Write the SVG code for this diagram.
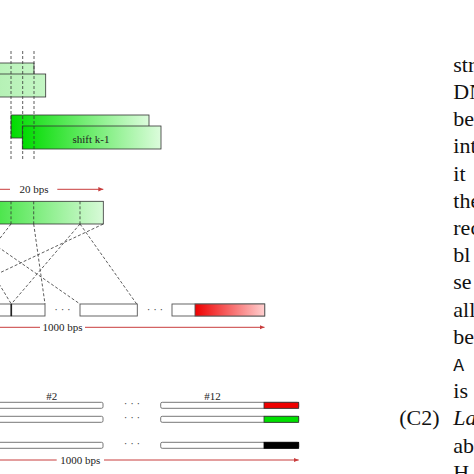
<svg xmlns="http://www.w3.org/2000/svg" width="474" height="474" viewBox="0 0 474 474">
<defs>
<linearGradient id="pale" x1="0" y1="0" x2="1" y2="0"><stop offset="0" stop-color="#a6eca6"/><stop offset="1" stop-color="#c4f6c4"/></linearGradient>
<linearGradient id="green" x1="0" y1="0" x2="1" y2="0"><stop offset="0" stop-color="#00dc00"/><stop offset="1" stop-color="#dcfcdc"/></linearGradient>
<linearGradient id="green2" x1="0" y1="0" x2="1" y2="0"><stop offset="0" stop-color="#18de18"/><stop offset="1" stop-color="#d8fad8"/></linearGradient>
<linearGradient id="red" x1="0" y1="0" x2="1" y2="0"><stop offset="0" stop-color="#ee0000"/><stop offset="1" stop-color="#ffd0d0"/></linearGradient>
<marker id="ah" markerWidth="6" markerHeight="6" refX="5" refY="3" orient="auto" markerUnits="userSpaceOnUse"><path d="M0,0.8 L5,3 L0,5.2 Z" fill="#c83c3c"/></marker>
</defs>
<style>
.box{stroke:#333;stroke-width:0.8}
.blk{fill:#fff;stroke:#555;stroke-width:0.9}
.bar{fill:#fff;stroke:#777;stroke-width:1}
.dash{stroke:#333;stroke-width:0.8;stroke-dasharray:3,2;fill:none}
.arr{stroke:#c83c3c;stroke-width:1;fill:none}
.lbl{font-family:"Liberation Serif",serif;font-size:11px;fill:#222;text-anchor:middle}
.dots{font-family:"Liberation Serif",serif;font-size:11px;fill:#444;text-anchor:middle}
.body{font-family:"Liberation Serif",serif;font-size:22px;fill:#111}
</style>

<g id="top-shifts">
<rect x="-60" y="63" width="94" height="23" fill="url(#pale)" class="box"/>
<rect x="-50" y="74" width="95.7" height="23" fill="url(#pale)" class="box"/>
<rect x="11" y="115" width="138" height="23" fill="url(#green)" class="box"/>
<rect x="22.3" y="126" width="138.7" height="23" fill="url(#green)" class="box"/>
<text x="91" y="142.5" class="lbl">shift  k-1</text>
</g>

<g id="top-guides">
<line x1="11" y1="51" x2="11" y2="160" class="dash"/>
<line x1="22.7" y1="51" x2="22.7" y2="160" class="dash"/>
<line x1="34" y1="51" x2="34" y2="160" class="dash"/>
</g>

<g id="k-mer">
<rect x="-40" y="201.3" width="143.3" height="22.7" fill="url(#green2)" class="box"/>
<line x1="11" y1="201.3" x2="11" y2="224" class="dash"/>
<line x1="33.7" y1="201.3" x2="33.7" y2="224" class="dash"/>
<line x1="80" y1="201.3" x2="80" y2="224" class="dash"/>
</g>

<g id="arrow-20bps">
<line x1="0" y1="189.3" x2="10" y2="189.3" class="arr"/>
<line x1="57.3" y1="189.3" x2="103.3" y2="189.3" class="arr" marker-end="url(#ah)"/>
<text x="34" y="192.8" class="lbl">20 bps</text>
</g>

<g id="connectors">
<line x1="11" y1="224" x2="-50" y2="303" class="dash"/>
<line x1="33.7" y1="224" x2="45" y2="304" class="dash"/>
<line x1="80" y1="224" x2="11.3" y2="304" class="dash"/>
<line x1="80" y1="224" x2="136.7" y2="304" class="dash"/>
<line x1="103.3" y1="224" x2="-60" y2="301" class="dash"/>
<line x1="-35" y1="224" x2="80" y2="304" class="dash"/>
<line x1="-37.5" y1="224" x2="11.3" y2="304" class="dash"/>
</g>

<g id="blocks">
<rect x="-30" y="304" width="41.3" height="12" class="blk"/>
<rect x="11.3" y="304" width="33.7" height="12" class="blk"/>
<line x1="11.3" y1="304" x2="11.3" y2="316" stroke="#222" stroke-width="1.6"/>
<text x="62.5" y="313" class="dots">· · ·</text>
<rect x="80" y="304" width="57.3" height="12" class="blk"/>
<text x="155" y="313" class="dots">· · ·</text>
<rect x="172" y="304" width="92.7" height="12" class="blk"/>
<rect x="195" y="304" width="69.7" height="12" fill="url(#red)" stroke="#555" stroke-width="0.9"/>
</g>

<g id="arrow-1000bps-mid">
<line x1="0" y1="327.3" x2="40" y2="327.3" class="arr"/>
<line x1="85" y1="327.3" x2="264.5" y2="327.3" class="arr" marker-end="url(#ah)"/>
<text x="62.5" y="330.8" class="lbl">1000 bps</text>
</g>

<g id="reads">
<text x="51.7" y="399.5" class="lbl">#2</text>
<text x="212.5" y="399.5" class="lbl">#12</text>
<rect x="-10" y="402.3" width="113" height="6" rx="1.5" class="bar"/>
<text x="132" y="406.5" class="dots">· · ·</text>
<rect x="160.7" y="402.3" width="138" height="6" rx="1.5" class="bar"/>
<rect x="264" y="402.3" width="34.7" height="6" fill="#ee0000" stroke="#333" stroke-width="0.8"/>
<rect x="-10" y="416.3" width="113" height="6" rx="1.5" class="bar"/>
<text x="132" y="420.5" class="dots">· · ·</text>
<rect x="160.7" y="416.3" width="138" height="6" rx="1.5" class="bar"/>
<rect x="264" y="416.3" width="34.7" height="6" fill="#00e000" stroke="#333" stroke-width="0.8"/>
<rect x="-10" y="442.3" width="113" height="6" rx="1.5" class="bar"/>
<text x="132" y="446.5" class="dots">· · ·</text>
<rect x="160.7" y="442.3" width="138" height="6" rx="1.5" class="bar"/>
<rect x="264" y="442.3" width="34.7" height="6" fill="#000" stroke="#000" stroke-width="0.8"/>
</g>

<g id="arrow-1000bps-bottom">
<line x1="0" y1="460" x2="56.7" y2="460" class="arr"/>
<line x1="104" y1="460" x2="298.7" y2="460" class="arr" marker-end="url(#ah)"/>
<text x="80.3" y="463.5" class="lbl">1000 bps</text>
</g>

<g id="body-text" class="body">
<text x="453.3" y="71.7">str</text>
<text x="453.3" y="98.9">DN</text>
<text x="453.3" y="126.1">be</text>
<text x="453.3" y="153.3">int</text>
<text x="453.3" y="180.5">it</text>
<text x="453.3" y="207.7">the</text>
<text x="453.3" y="234.9">rec</text>
<text x="453.3" y="262.1">bl</text>
<text x="453.3" y="289.3">se</text>
<text x="453.3" y="316.5">all</text>
<text x="453.3" y="343.7">be</text>
<text x="453.3" y="370.9" style="font-family:'Liberation Mono',monospace;font-size:18px">A</text>
<text x="453.3" y="398.1">is</text>
<text x="399.3" y="425.3">(C2)</text>
<text x="453.3" y="425.3" font-style="italic">La</text>
<text x="453.3" y="452.5">ab</text>
<text x="453.3" y="479.7">H</text>
</g>
</svg>
